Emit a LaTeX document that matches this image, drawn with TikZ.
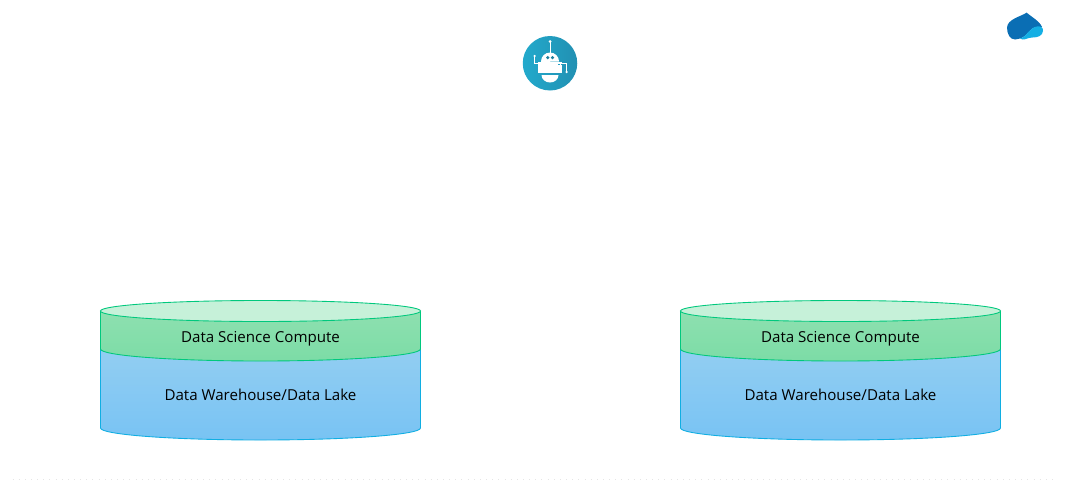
\documentclass[tikz,border=0pt]{standalone}
\usepackage{fontspec}
\setmainfont{Open Sans}
\definecolor{dsgreen}{RGB}{0, 200, 125}
\definecolor{dsgreenlid}{RGB}{198, 241, 217}
\definecolor{dsgreentop}{RGB}{142, 224, 176}
\definecolor{dsgreenbot}{RGB}{124, 220, 166}
\definecolor{dlblue}{RGB}{16, 174, 226}
\definecolor{dlbluetop}{RGB}{152, 208, 242}
\definecolor{dlbluebot}{RGB}{120, 195, 243}
\definecolor{botteal}{RGB}{38, 160, 198}
\definecolor{logodark}{RGB}{10, 110, 180}
\definecolor{logolight}{RGB}{20, 175, 228}
\tikzset{
  storebody/.style={draw=dlblue, line width=0.5pt, top color=dlbluetop, bottom color=dlbluebot},
  computeband/.style={draw=dsgreen, line width=0.5pt, top color=dsgreentop, bottom color=dsgreenbot},
  computelid/.style={draw=dsgreen, line width=0.5pt, fill=dsgreenlid},
  cyllabel/.style={font=\fontsize{8.6}{11}\selectfont, text=black},
  botwire/.style={draw=white, line width=0.55pt}
}

\begin{document}
\begin{tikzpicture}
  \useasboundingbox (0,0) rectangle (21.34,9.6);

  % Two stacked cylinders
  \foreach \cx/\nm in {5.21/left, 16.81/right} {
    % Data warehouse part
    \draw[storebody] (\cx-3.2,3.0) -- (\cx-3.2,1.04)
      arc[start angle=180, end angle=360, x radius=3.2, y radius=0.24]
      -- (\cx+3.2,3.0) -- cycle;
    % Compute part
    \draw[computeband] (\cx-3.2,3.38) -- (\cx-3.2,2.62)
      arc[start angle=180, end angle=360, x radius=3.2, y radius=0.24]
      -- (\cx+3.2,3.38) -- cycle;
    \draw[computelid] (\cx,3.38) ellipse (3.2 and 0.21);
    \node[cyllabel] (compute\nm) at (\cx,2.82) {Data Science Compute};
    \node[cyllabel] (store\nm) at (\cx,1.71) {Data Warehouse/Data Lake};
  }

  % Robot badge
  \shade[left color=botteal!90!cyan, right color=botteal!90!black] (11.0,8.335) circle (0.545);
  \draw[botwire] (11.0,8.5) -- (11.0,8.76);
  \fill[white] (11.0,8.77) circle (0.03);
  \fill[white] (10.82,8.36) -- (10.82,8.37)
    arc[start angle=180, end angle=0, x radius=0.18, y radius=0.18] -- cycle;
  \fill[white] (10.755,8.135) rectangle (11.245,8.365);
  \fill[white] (10.83,8.1) arc[start angle=180, end angle=360, x radius=0.17, y radius=0.15] -- cycle;
  \fill[botteal!80!black] (10.955,8.446) circle (0.035);
  \fill[botteal!80!black] (11.05,8.446) circle (0.035);
  \foreach \dx in {11.15,11.18,11.21}
    \fill[botteal] (\dx,8.31) rectangle (\dx+0.018,8.328);
  \draw[botwire] (10.76,8.33) -- (10.69,8.33) -- (10.69,8.47);
  \draw[botwire] (11.24,8.33) -- (11.33,8.33) -- (11.33,8.17);
  \fill[white] (10.69,8.48) circle (0.025);
  \fill[white] (11.33,8.16) circle (0.025);

  % Spade logo
  \fill[logodark] (20.533,9.347) .. controls (20.42,9.27) and (20.15,9.22) .. (20.14,9.05)
    .. controls (20.14,8.92) and (20.2,8.81) .. (20.3,8.81)
    -- (20.4,8.83)
    .. controls (20.55,8.87) and (20.58,9.05) .. (20.74,9.06)
    -- (20.84,9.06)
    .. controls (20.8,9.17) and (20.62,9.27) .. (20.533,9.347) -- cycle;
  \fill[logolight] (20.4,8.83) .. controls (20.55,8.87) and (20.58,9.05) .. (20.74,9.07)
    .. controls (20.8,9.08) and (20.87,9.06) .. (20.86,8.98)
    .. controls (20.85,8.88) and (20.75,8.85) .. (20.65,8.85)
    .. controls (20.56,8.85) and (20.5,8.8) .. (20.45,8.81) -- cycle;

  % Faint bottom rule
  \draw[black!10, line width=0.3pt, dash pattern=on 0.5pt off 3pt] (0.25,0.015) -- (21.1,0.015);
\end{tikzpicture}
\end{document}
